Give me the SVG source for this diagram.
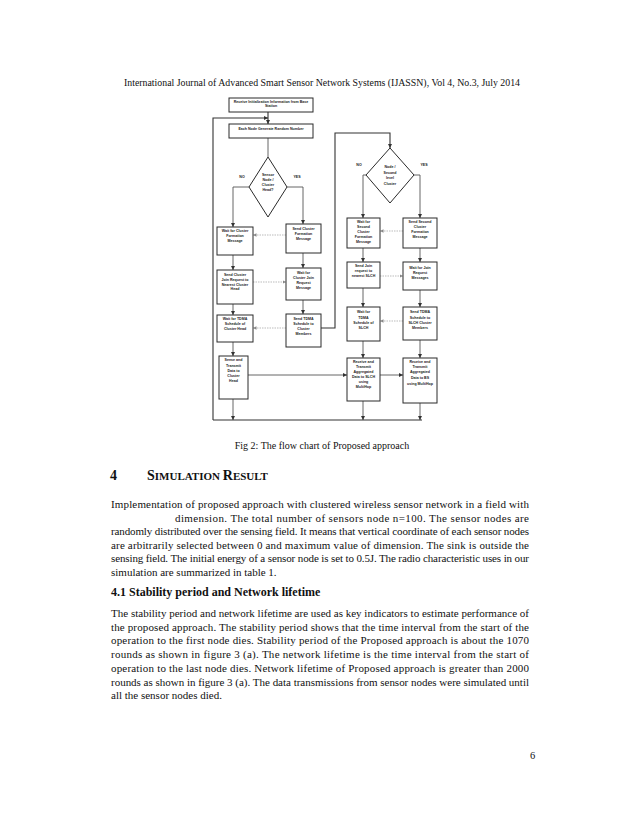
<svg xmlns="http://www.w3.org/2000/svg" width="638" height="826" viewBox="0 0 638 826">
<defs>
<style>
.page{font-family:"Liberation Serif","Times New Roman",serif;fill:#111}
.body{font-size:11px}
.box{fill:#fff;stroke:#2a2a2a;stroke-width:1}
.bt{font-family:"Liberation Sans",Arial,sans-serif;font-size:3.6px;font-weight:bold;fill:#222;text-anchor:middle}
.v{stroke:#555;stroke-width:0.9;fill:none}
.h{stroke:#aaa;stroke-width:0.8;fill:none;stroke-dasharray:1.5 1}
.loop{stroke:#333;stroke-width:1.1;fill:none}
</style>
<marker id="a" viewBox="0 0 6 6" refX="6" refY="3" markerWidth="4" markerHeight="4" markerUnits="userSpaceOnUse" orient="auto">
<path d="M0,0 L6,3 L0,6 z" fill="#333"/>
</marker>
<marker id="g" viewBox="0 0 6 6" refX="6" refY="3" markerWidth="3.5" markerHeight="3.5" markerUnits="userSpaceOnUse" orient="auto">
<path d="M0,0 L6,3 L0,6 z" fill="#888"/>
</marker>
</defs>
<rect width="638" height="826" fill="#fff"/>

<text class="page" x="322" y="86" font-size="10px" text-anchor="middle" textLength="396" lengthAdjust="spacingAndGlyphs">International Journal of Advanced Smart Sensor Network Systems (IJASSN), Vol 4, No.3, July 2014</text>

<g id="connectors">
<path class="loop" d="M213,420 V118 H268" marker-end="url(#a)"/>
<path class="loop" d="M268,112 V124" marker-end="url(#a)"/>
<path class="v" d="M268,138 V157"/>
<path class="v" d="M249,187 H233 V227" marker-end="url(#a)"/>
<path class="v" d="M287,187 H303 V224" marker-end="url(#a)"/>
<path class="v" d="M233,255 V270" marker-end="url(#a)"/>
<path class="v" d="M233,304 V315" marker-end="url(#a)"/>
<path class="v" d="M233,342 V356" marker-end="url(#a)"/>
<path class="v" d="M303,253 V268" marker-end="url(#a)"/>
<path class="v" d="M303,300 V314" marker-end="url(#a)"/>
<path class="h" d="M286,235 H253" marker-end="url(#g)"/>
<path class="h" d="M253,282 H286" marker-end="url(#g)"/>
<path class="h" d="M286,328 H253" marker-end="url(#g)"/>
<path class="v" d="M248,375 H347" marker-end="url(#a)"/>
<path class="loop" d="M321,328 H335 V133 H390 V148" marker-end="url(#a)"/>
<path class="v" d="M366,175 H363 V218" marker-end="url(#a)"/>
<path class="v" d="M414,175 H420 V218" marker-end="url(#a)"/>
<path class="v" d="M363,248 V262" marker-end="url(#a)"/>
<path class="v" d="M363,288 V307" marker-end="url(#a)"/>
<path class="v" d="M363,341 V358" marker-end="url(#a)"/>
<path class="v" d="M420,248 V262" marker-end="url(#a)"/>
<path class="v" d="M420,290 V307" marker-end="url(#a)"/>
<path class="v" d="M420,340 V358" marker-end="url(#a)"/>
<path class="h" d="M403,231 H380" marker-end="url(#g)"/>
<path class="h" d="M380,276 H403" marker-end="url(#g)"/>
<path class="h" d="M403,321 H380" marker-end="url(#g)"/>
<path class="v" d="M380,375 H403" marker-end="url(#a)"/>
<path class="v" d="M233,399 V420" marker-end="url(#a)"/>
<path class="v" d="M363,401 V420" marker-end="url(#a)"/>
<path class="v" d="M420,403 V420" marker-end="url(#a)"/>
<path class="loop" d="M213,420 H422"/>
</g>

<g id="n-init"><rect class="box" x="229" y="98" width="84" height="14"/>
<text class="bt" x="271" y="103"><tspan x="271">Receive Initialization Information from Base</tspan><tspan x="271" dy="4.4">Station</tspan></text></g>
<g id="n-random"><rect class="box" x="229" y="124" width="84" height="14"/>
<text class="bt" x="271" y="129.5">Each Node Generate Random Number</text></g>
<g id="n-d1"><polygon class="box" points="268,157 287,187 268,217 249,187"/>
<text class="bt" x="268" y="176.3"><tspan x="268">Sensor</tspan><tspan x="268" dy="5">Node /</tspan><tspan x="268" dy="5">Cluster</tspan><tspan x="268" dy="5">Head?</tspan></text>
<text class="bt" x="242" y="178.3">NO</text><text class="bt" x="297" y="178.3">YES</text></g>
<g id="n-l1"><rect class="box" x="217" y="227" width="36" height="28"/>
<text class="bt" x="235" y="232.3"><tspan x="235">Wait for Cluster</tspan><tspan x="235" dy="5">Formation</tspan><tspan x="235" dy="5">Message</tspan></text></g>
<g id="n-r1"><rect class="box" x="286" y="224" width="35" height="29"/>
<text class="bt" x="303.5" y="229.5"><tspan x="303.5">Send Cluster</tspan><tspan x="303.5" dy="5">Formation</tspan><tspan x="303.5" dy="5">Message</tspan></text></g>
<g id="n-l2"><rect class="box" x="217" y="270" width="36" height="34"/>
<text class="bt" x="235" y="276.3"><tspan x="235">Send Cluster</tspan><tspan x="235" dy="4.7">Join Request to</tspan><tspan x="235" dy="4.7">Nearest Cluster</tspan><tspan x="235" dy="4.7">Head</tspan></text></g>
<g id="n-r2"><rect class="box" x="286" y="268" width="35" height="32"/>
<text class="bt" x="303.5" y="274"><tspan x="303.5">Wait for</tspan><tspan x="303.5" dy="5">Cluster Join</tspan><tspan x="303.5" dy="5">Request</tspan><tspan x="303.5" dy="5">Message</tspan></text></g>
<g id="n-l3"><rect class="box" x="217" y="315" width="36" height="27"/>
<text class="bt" x="235" y="320.3"><tspan x="235">Wait for TDMA</tspan><tspan x="235" dy="5">Schedule of</tspan><tspan x="235" dy="5">Cluster Head</tspan></text></g>
<g id="n-r3"><rect class="box" x="286" y="314" width="35" height="33"/>
<text class="bt" x="303.5" y="320.3"><tspan x="303.5">Send TDMA</tspan><tspan x="303.5" dy="4.8">Schedule to</tspan><tspan x="303.5" dy="4.8">Cluster</tspan><tspan x="303.5" dy="4.8">Members</tspan></text></g>
<g id="n-l4"><rect class="box" x="219" y="356" width="29" height="43"/>
<text class="bt" x="233.5" y="361.3"><tspan x="233.5">Sense and</tspan><tspan x="233.5" dy="5.2">Transmit</tspan><tspan x="233.5" dy="5.2">Data to</tspan><tspan x="233.5" dy="5.2">Cluster</tspan><tspan x="233.5" dy="5.2">Head</tspan></text></g>
<g id="n-d2"><polygon class="box" points="390,148 414,175 390,203 366,175"/>
<text class="bt" x="390" y="168"><tspan x="390">Node /</tspan><tspan x="390" dy="5.5">Second</tspan><tspan x="390" dy="5.5">level</tspan><tspan x="390" dy="5.5">Cluster</tspan></text>
<text class="bt" x="359" y="166.3">NO</text><text class="bt" x="424" y="166.3">YES</text></g>
<g id="n-sl1"><rect class="box" x="347" y="218" width="33" height="30"/>
<text class="bt" x="363.5" y="223.3"><tspan x="363.5">Wait for</tspan><tspan x="363.5" dy="5">Second</tspan><tspan x="363.5" dy="5">Cluster</tspan><tspan x="363.5" dy="5">Formation</tspan><tspan x="363.5" dy="5">Message</tspan></text></g>
<g id="n-sr1"><rect class="box" x="403" y="218" width="34" height="30"/>
<text class="bt" x="420" y="223.3"><tspan x="420">Send Second</tspan><tspan x="420" dy="5">Cluster</tspan><tspan x="420" dy="5">Formation</tspan><tspan x="420" dy="5">Message</tspan></text></g>
<g id="n-sl2"><rect class="box" x="347" y="262" width="33" height="26"/>
<text class="bt" x="363.5" y="267.3"><tspan x="363.5">Send Join</tspan><tspan x="363.5" dy="5">request to</tspan><tspan x="363.5" dy="5">nearest SLCH</tspan></text></g>
<g id="n-sr2"><rect class="box" x="403" y="262" width="34" height="28"/>
<text class="bt" x="420" y="269"><tspan x="420">Wait for Join</tspan><tspan x="420" dy="5">Request</tspan><tspan x="420" dy="5">Messages</tspan></text></g>
<g id="n-sl3"><rect class="box" x="347" y="307" width="33" height="34"/>
<text class="bt" x="363.5" y="313.3"><tspan x="363.5">Wait for</tspan><tspan x="363.5" dy="5.2">TDMA</tspan><tspan x="363.5" dy="5.2">Schedule of</tspan><tspan x="363.5" dy="5.2">SLCH</tspan></text></g>
<g id="n-sr3"><rect class="box" x="403" y="307" width="34" height="33"/>
<text class="bt" x="420" y="313.3"><tspan x="420">Send TDMA</tspan><tspan x="420" dy="5.2">Schedule to</tspan><tspan x="420" dy="5.2">SLCH Cluster</tspan><tspan x="420" dy="5.2">Members</tspan></text></g>
<g id="n-sl4"><rect class="box" x="347" y="358" width="33" height="43"/>
<text class="bt" x="363.5" y="363.3"><tspan x="363.5">Receive and</tspan><tspan x="363.5" dy="5">Transmit</tspan><tspan x="363.5" dy="5">Aggregated</tspan><tspan x="363.5" dy="5">Data to SLCH</tspan><tspan x="363.5" dy="5">using</tspan><tspan x="363.5" dy="5">MultiHop</tspan></text></g>
<g id="n-sr4"><rect class="box" x="403" y="358" width="34" height="45"/>
<text class="bt" x="420" y="363.3"><tspan x="420">Receive and</tspan><tspan x="420" dy="5">Transmit</tspan><tspan x="420" dy="5">Aggregated</tspan><tspan x="420" dy="5.5">Data to BS</tspan><tspan x="420" dy="6">using MultiHop</tspan></text></g>

<text class="page" x="322" y="449" font-size="10px" text-anchor="middle">Fig 2: The flow chart of Proposed approach</text>

<text class="page" x="110" y="480" font-size="14px" font-weight="bold">4</text>
<text class="page" x="147" y="480" font-weight="bold"><tspan font-size="14px">S</tspan><tspan font-size="11px">IMULATION </tspan><tspan font-size="14px">R</tspan><tspan font-size="11px">ESULT</tspan></text>

<g class="page body">
<text x="111" y="508" textLength="418" lengthAdjust="spacing">Implementation of proposed approach with clustered wireless sensor network in a field with</text>
<text x="175" y="521.5" textLength="354" lengthAdjust="spacing">dimension. The total number of sensors node n=100. The sensor nodes are</text>
<text x="111" y="535" textLength="418" lengthAdjust="spacing">randomly distributed over the sensing field. It means that vertical coordinate of each sensor nodes</text>
<text x="111" y="548.5" textLength="418" lengthAdjust="spacing">are arbitrarily selected between 0 and maximum value of dimension. The sink is outside the</text>
<text x="111" y="562" textLength="418" lengthAdjust="spacing">sensing field. The initial energy of a sensor node is set to 0.5J. The radio characteristic uses in our</text>
<text x="111" y="575.5">simulation are summarized in table 1.</text>
</g>

<text class="page" x="111" y="596" font-size="12px" font-weight="bold">4.1 Stability period and Network lifetime</text>

<g class="page body">
<text x="111" y="617" textLength="418" lengthAdjust="spacing">The stability period and network lifetime are used as key indicators to estimate performance of</text>
<text x="111" y="630.7" textLength="418" lengthAdjust="spacing">the proposed approach. The stability period shows that the time interval from the start of the</text>
<text x="111" y="644.4" textLength="418" lengthAdjust="spacing">operation to the first node dies. Stability period of the Proposed approach is about the 1070</text>
<text x="111" y="658.1" textLength="418" lengthAdjust="spacing">rounds as shown in figure 3 (a). The network lifetime is the time interval from the start of</text>
<text x="111" y="671.8" textLength="418" lengthAdjust="spacing">operation to the last node dies. Network lifetime of Proposed approach is greater than 2000</text>
<text x="111" y="685.5" textLength="418" lengthAdjust="spacing">rounds as shown in figure 3 (a). The data transmissions from sensor nodes were simulated until</text>
<text x="111" y="699.2">all the sensor nodes died.</text>
</g>

<text class="page" x="530" y="759" font-size="10.5px">6</text>
</svg>
